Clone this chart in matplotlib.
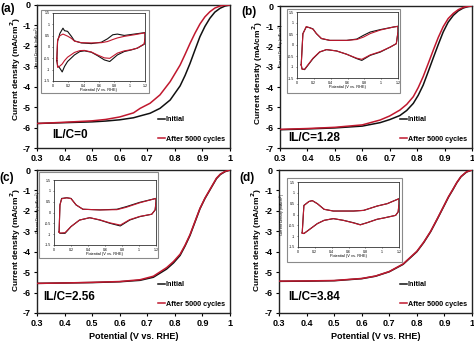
import matplotlib
matplotlib.use("Agg")
import matplotlib.pyplot as plt
from matplotlib.patches import Rectangle

plt.rcParams['font.family'] = ['Liberation Sans Narrow', 'Liberation Sans', 'DejaVu Sans']
plt.rcParams['axes.unicode_minus'] = False

# ---------------- data ----------------
panel_labels = ["(a)", "(b)", "(c)", "(d)"]
ratio_labels = ["IL/C=0", "IL/C=1.28", "IL/C=2.56", "IL/C=3.84"]
series_names = ["Initial", "After 5000 cycles"]
x_ticks = [0.3, 0.4, 0.5, 0.6, 0.7, 0.8, 0.9, 1.0]
x_tick_labels = ["0.3", "0.4", "0.5", "0.6", "0.7", "0.8", "0.9", "1"]
y_ticks = [0, -1, -2, -3, -4, -5, -6, -7]
inset_x_ticks = [0, 0.2, 0.4, 0.6, 0.8, 1.0, 1.2]
inset_x_labels = ["0", "0.2", "0.4", "0.6", "0.8", "1", "1.2"]
inset_y_ticks = [1.5, 1.0, 0.5, 0, -0.5, -1.0, -1.5]
inset_y_labels = ["1.5", "1", "0.5", "0", "-0.5", "-1", "-1.5"]

# LSV curves
pot_a = [0.30, 0.40, 0.50, 0.55, 0.60, 0.65, 0.674, 0.71, 0.746, 0.783, 0.819, 0.837, 0.855, 0.873, 0.891, 0.909, 0.927, 0.945, 0.964, 0.982, 1.0]
init_a = [-5.80, -5.76, -5.72, -5.68, -5.62, -5.52, -5.43, -5.30, -5.06, -4.65, -3.96, -3.45, -2.86, -2.20, -1.55, -1.05, -0.65, -0.35, -0.16, -0.05, 0.0]
cyc_a = [-5.80, -5.74, -5.67, -5.60, -5.48, -5.28, -5.06, -4.81, -4.40, -3.75, -2.94, -2.42, -1.88, -1.38, -0.93, -0.58, -0.33, -0.15, -0.05, -0.01, 0.0]

pot_b = [0.30, 0.40, 0.50, 0.60, 0.665, 0.70, 0.737, 0.762, 0.786, 0.804, 0.822, 0.840, 0.859, 0.877, 0.895, 0.913, 0.932, 0.950, 0.968, 0.985, 1.0]
init_b = [-6.10, -6.06, -6.01, -5.92, -5.75, -5.60, -5.40, -5.15, -4.80, -4.40, -3.90, -3.25, -2.55, -1.90, -1.28, -0.80, -0.46, -0.24, -0.10, -0.03, 0.0]
cyc_b = [-6.08, -6.04, -5.98, -5.86, -5.62, -5.42, -5.13, -4.85, -4.47, -4.02, -3.48, -2.85, -2.17, -1.55, -1.02, -0.62, -0.36, -0.18, -0.07, -0.02, 0.0]

pot_c = [0.30, 0.40, 0.50, 0.60, 0.674, 0.722, 0.77, 0.795, 0.819, 0.837, 0.855, 0.873, 0.891, 0.909, 0.927, 0.951, 0.965, 0.982, 1.0]
init_c = [-5.55, -5.53, -5.51, -5.47, -5.40, -5.25, -4.85, -4.55, -4.18, -3.72, -3.20, -2.55, -1.90, -1.40, -0.98, -0.42, -0.22, -0.08, 0.0]
cyc_c = [-5.55, -5.53, -5.50, -5.46, -5.37, -5.20, -4.78, -4.48, -4.12, -3.68, -3.16, -2.52, -1.88, -1.38, -0.96, -0.40, -0.20, -0.07, 0.0]

pot_d = [0.30, 0.40, 0.50, 0.60, 0.65, 0.70, 0.75, 0.80, 0.825, 0.85, 0.875, 0.90, 0.915, 0.93, 0.945, 0.96, 0.98, 1.0]
init_d = [-5.45, -5.44, -5.42, -5.32, -5.20, -4.98, -4.62, -4.00, -3.55, -3.02, -2.38, -1.72, -1.32, -0.98, -0.62, -0.33, -0.10, 0.0]
cyc_d = [-5.44, -5.43, -5.41, -5.31, -5.19, -4.97, -4.60, -3.98, -3.53, -3.00, -2.36, -1.70, -1.30, -0.96, -0.61, -0.32, -0.09, 0.0]

# CV insets (anodic branch up, cathodic branch down)
cv_up_x_a = [0.05, 0.06, 0.09, 0.13, 0.15, 0.19, 0.24, 0.28, 0.37, 0.50, 0.63, 0.71, 0.78, 0.84, 0.93, 1.06, 1.19, 1.20]
cv_up_init_a = [-0.60, 0.25, 0.60, 0.83, 0.72, 0.69, 0.47, 0.27, 0.18, 0.15, 0.21, 0.36, 0.54, 0.57, 0.51, 0.57, 0.63, 0.64]
cv_up_cyc_a = [-0.50, 0.32, 0.50, 0.57, 0.54, 0.48, 0.38, 0.26, 0.19, 0.18, 0.19, 0.24, 0.33, 0.40, 0.47, 0.54, 0.62, 0.63]
cv_dn_x_a = [1.20, 1.19, 1.10, 1.02, 0.93, 0.84, 0.74, 0.67, 0.58, 0.50, 0.41, 0.35, 0.28, 0.19, 0.15, 0.12, 0.09, 0.06, 0.05]
cv_dn_init_a = [0.40, 0.12, -0.05, -0.13, -0.20, -0.35, -0.64, -0.57, -0.38, -0.23, -0.17, -0.20, -0.35, -0.64, -0.86, -1.10, -0.94, -0.82, -0.60]
cv_dn_cyc_a = [0.40, 0.14, -0.05, -0.12, -0.17, -0.27, -0.50, -0.48, -0.35, -0.22, -0.15, -0.16, -0.24, -0.45, -0.60, -0.75, -0.84, -0.90, -0.50]

cv_up_x_b = [0.05, 0.07, 0.11, 0.15, 0.19, 0.23, 0.29, 0.39, 0.59, 0.71, 0.79, 0.87, 0.99, 1.15, 1.20]
cv_up_init_b = [-0.90, 0.52, 0.82, 0.79, 0.73, 0.52, 0.29, 0.21, 0.21, 0.27, 0.44, 0.59, 0.70, 0.82, 0.85]
cv_up_cyc_b = [-0.90, 0.50, 0.84, 0.78, 0.72, 0.52, 0.30, 0.21, 0.21, 0.25, 0.36, 0.52, 0.68, 0.82, 0.85]
cv_dn_x_b = [1.20, 1.18, 1.11, 0.99, 0.87, 0.77, 0.71, 0.59, 0.47, 0.35, 0.27, 0.19, 0.13, 0.09, 0.06, 0.05]
cv_dn_init_b = [0.60, 0.06, -0.09, -0.32, -0.47, -0.70, -0.62, -0.42, -0.27, -0.21, -0.32, -0.62, -0.92, -1.12, -1.09, -0.90]
cv_dn_cyc_b = [0.60, 0.06, -0.09, -0.30, -0.45, -0.65, -0.60, -0.42, -0.27, -0.21, -0.31, -0.60, -0.90, -1.10, -1.10, -0.90]

cv_up_x_c = [0.06, 0.07, 0.09, 0.15, 0.20, 0.26, 0.34, 0.54, 0.74, 0.85, 1.01, 1.20]
cv_up_init_c = [-0.90, 0.35, 0.65, 0.68, 0.65, 0.35, 0.15, 0.12, 0.15, 0.27, 0.47, 0.65]
cv_up_cyc_c = [-0.90, 0.35, 0.63, 0.68, 0.64, 0.35, 0.15, 0.12, 0.13, 0.24, 0.45, 0.65]
cv_dn_x_c = [1.20, 1.19, 1.15, 1.01, 0.89, 0.78, 0.66, 0.54, 0.42, 0.30, 0.20, 0.13, 0.07, 0.06]
cv_dn_init_c = [0.50, 0.12, -0.08, -0.19, -0.35, -0.62, -0.50, -0.35, -0.24, -0.35, -0.65, -0.96, -0.96, -0.90]
cv_dn_cyc_c = [0.50, 0.12, -0.08, -0.18, -0.33, -0.58, -0.48, -0.34, -0.24, -0.35, -0.65, -0.93, -0.95, -0.90]

cv_up_x_d = [0.05, 0.07, 0.13, 0.17, 0.23, 0.31, 0.42, 0.66, 0.78, 0.94, 1.06, 1.20]
cv_up_init_d = [-0.85, 0.42, 0.60, 0.64, 0.50, 0.24, 0.16, 0.16, 0.19, 0.39, 0.50, 0.73]
cv_up_cyc_d = [-0.85, 0.41, 0.60, 0.64, 0.50, 0.24, 0.16, 0.16, 0.19, 0.39, 0.50, 0.73]
cv_dn_x_d = [1.20, 1.19, 1.16, 1.02, 0.94, 0.82, 0.74, 0.66, 0.54, 0.42, 0.31, 0.23, 0.15, 0.07, 0.05]
cv_dn_init_d = [0.50, 0.12, -0.04, -0.16, -0.22, -0.38, -0.47, -0.38, -0.27, -0.19, -0.27, -0.42, -0.65, -0.88, -0.85]
cv_dn_cyc_d = [0.50, 0.12, -0.04, -0.16, -0.22, -0.38, -0.48, -0.39, -0.27, -0.19, -0.27, -0.42, -0.65, -0.88, -0.85]

# ---------------- layout (pixels in a 474x343 canvas) ----------------
W, H = 474.0, 343.0
BLACK = "#111111"
RED = "#c0182e"

def fr(x0, y0, x1, y1):
    return [x0 / W, 1 - y1 / H, (x1 - x0) / W, (y1 - y0) / H]

panels = [
    dict(main=(37, 5, 230, 148), frame=(41, 10, 149, 93), inset=(53, 13, 145, 81),
         pot=pot_a, init=init_a, cyc=cyc_a,
         cv=(cv_up_x_a, cv_up_init_a, cv_up_cyc_a, cv_dn_x_a, cv_dn_init_a, cv_dn_cyc_a),
         lab_xy=(0, 9), xlabel=False, ylab=(-0.073, 0.55), txt=(0.08, 0.09)),
    dict(main=(280, 6, 472, 148), frame=(287, 9, 400, 93), inset=(297, 12, 398, 78),
         pot=pot_b, init=init_b, cyc=cyc_b,
         cv=(cv_up_x_b, cv_up_init_b, cv_up_cyc_b, cv_dn_x_b, cv_dn_init_b, cv_dn_cyc_b),
         lab_xy=(241, 12), xlabel=False, ylab=(-0.079, 0.53), txt=(0.045, 0.07)),
    dict(main=(37, 170, 230, 313), frame=(39, 172, 158, 258), inset=(54, 180, 156, 245),
         pot=pot_c, init=init_c, cyc=cyc_c,
         cv=(cv_up_x_c, cv_up_init_c, cv_up_cyc_c, cv_dn_x_c, cv_dn_init_c, cv_dn_cyc_c),
         lab_xy=(-1, 178), xlabel=True, ylab=(-0.073, 0.51), txt=(0.03, 0.11)),
    dict(main=(279, 170, 472, 313), frame=(287, 178, 402, 262), inset=(298, 182, 399, 247),
         pot=pot_d, init=init_d, cyc=cyc_d,
         cv=(cv_up_x_d, cv_up_init_d, cv_up_cyc_d, cv_dn_x_d, cv_dn_init_d, cv_dn_cyc_d),
         lab_xy=(239, 178), xlabel=True, ylab=(-0.077, 0.51), txt=(0.05, 0.11)),
]

fig = plt.figure(figsize=(4.74, 3.43), dpi=100)

for i, p in enumerate(panels):
    ax = fig.add_axes(fr(*p["main"]))
    ax.plot(p["pot"], p["init"], color=BLACK, lw=1.1, label=series_names[0], zorder=3)
    ax.plot(p["pot"], p["cyc"], color=RED, lw=1.1, label=series_names[1], zorder=4)
    ax.set_xlim(0.3, 1.0)
    ax.set_ylim(-7, 0)
    ax.set_xticks(x_ticks)
    ax.set_xticklabels(x_tick_labels)
    ax.set_yticks(y_ticks)
    ax.tick_params(labelsize=6.5, length=2.5, width=0.8, pad=2)
    for t in ax.get_xticklabels() + ax.get_yticklabels():
        t.set_fontweight("bold")
    for s in ax.spines.values():
        s.set_linewidth(1.0)
        s.set_color("#222222")
    ax.set_ylabel("Current density (mA/cm$^{\\mathbf{2}}$)", fontsize=6.0, fontweight="bold")
    ax.yaxis.set_label_coords(*p["ylab"])
    if p["xlabel"]:
        ax.set_xlabel("Potential (V vs. RHE)", fontsize=6.5, fontweight="bold", labelpad=3)
    leg = ax.legend(loc="lower right", bbox_to_anchor=(1.0, 0.0), frameon=False,
                    fontsize=5.2, handlelength=0.9, handletextpad=0.15, labelspacing=1.75,
                    borderaxespad=0.3)
    for t in leg.get_texts():
        t.set_fontweight("bold")
    ax.text(p["txt"][0], p["txt"][1], ratio_labels[i], transform=ax.transAxes, fontsize=8.5,
            fontweight="bold", va="center", ha="left", family=["Liberation Sans", "DejaVu Sans"])
    fig.text(p["lab_xy"][0] / W, 1 - p["lab_xy"][1] / H, panel_labels[i], fontsize=8.5,
             fontweight="bold", va="center", ha="left", family=["Liberation Sans", "DejaVu Sans"])

    # inset frame
    fx0, fy0, fx1, fy1 = p["frame"]
    rect = Rectangle((fx0 / W, 1 - fy1 / H), (fx1 - fx0) / W, (fy1 - fy0) / H,
                     transform=fig.transFigure, facecolor="white", edgecolor="#8a8a8a",
                     lw=0.8, zorder=5)
    fig.add_artist(rect)
    ins = fig.add_axes(fr(*p["inset"]), zorder=6)
    upx, upi, upc, dnx, dni, dnc = p["cv"]
    ins.plot(upx + dnx, upi + dni, color=BLACK, lw=0.8)
    ins.plot(upx + dnx, upc + dnc, color=RED, lw=0.8)
    ins.set_xlim(0, 1.2)
    ins.set_ylim(-1.5, 1.5)
    ins.set_xticks(inset_x_ticks)
    ins.set_xticklabels(inset_x_labels)
    ins.set_yticks(inset_y_ticks)
    ins.set_yticklabels(inset_y_labels)
    ins.tick_params(labelsize=2.6, length=1.0, width=0.4, pad=1)
    for s in ins.spines.values():
        s.set_linewidth(0.6)
        s.set_color("#333333")
    ins.set_xlabel("Potential (V vs. RHE)", fontsize=2.8, labelpad=0.5)
    ins.set_ylabel("Current Density (mA/cm$^2$)", fontsize=2.6, labelpad=0.5)

fig.savefig("out.png", dpi=100)
